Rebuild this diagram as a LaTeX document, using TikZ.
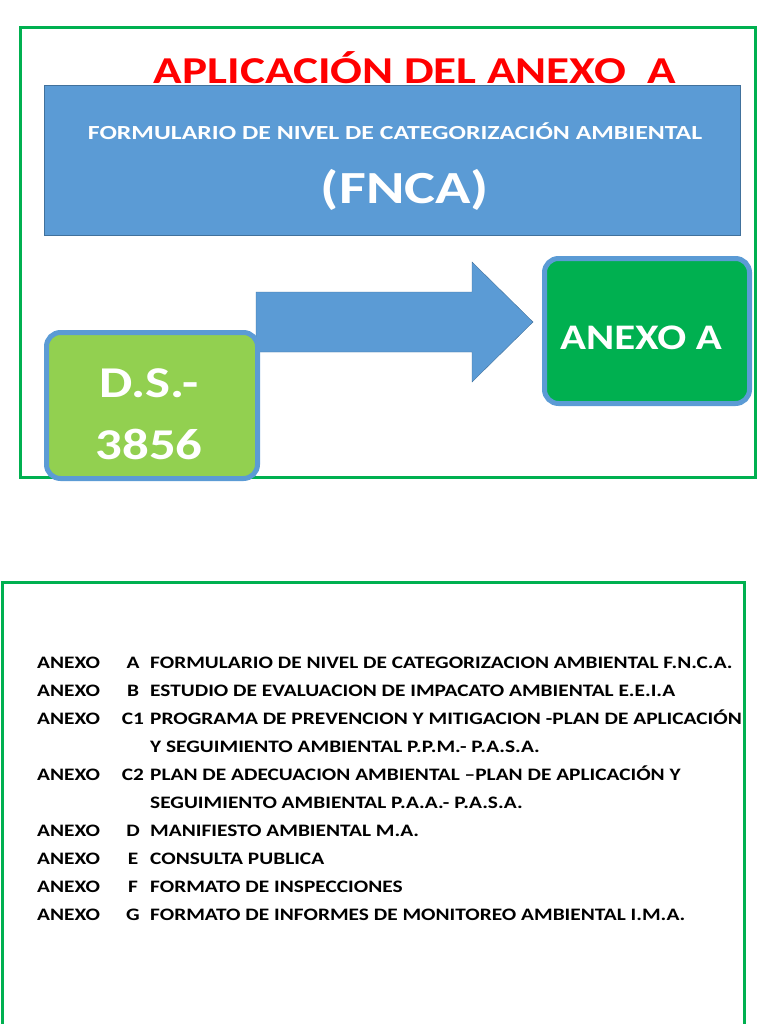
\documentclass[tikz,border=0pt]{standalone}
\usepackage{fontspec}
\setmainfont{Carlito}
\definecolor{gfr}{RGB}{0,176,80}
\definecolor{bfill}{RGB}{91,155,213}
\definecolor{bdark}{RGB}{65,113,156}
\definecolor{lgreen}{RGB}{146,208,80}
\newcommand{\wide}[2][1.22]{\scalebox{#1}[1]{#2}}
\begin{document}
\begin{tikzpicture}[x=1pt,y=-1pt,
  frame/.style={draw=gfr,line width=3pt},
  rbox/.style={draw=bfill,line width=5pt,rounded corners=14pt},
  wtxt/.style={text=white,font=\bfseries},
  item/.style={anchor=base west,font=\bfseries\fontsize{17.5}{21}\selectfont,inner sep=0pt}]
\useasboundingbox (0,0) rectangle (768,1024);
\draw[frame] (20,28) rectangle (755,477);
\node (title) at (415,68) {\textcolor{red}{\bfseries\fontsize{38}{44}\selectfont\wide[1.24]{APLICACIÓN DEL ANEXO\ \ A}}};
\node[draw=bdark,fill=bfill,minimum width=696pt,minimum height=150pt,anchor=north west,inner sep=0pt] (fnca) at (44,85) {};
\node[wtxt,font=\bfseries\fontsize{20}{24}\selectfont] (ft) at (395,131) {\wide[1.29]{FORMULARIO DE NIVEL DE CATEGORIZACIÓN AMBIENTAL}};
\node[wtxt,font=\bfseries\fontsize{46}{52}\selectfont] (fb) at (405,190) {\wide[1.27]{(FNCA)}};
\draw[draw=bdark,fill=bfill] (256,292) -- (472,292) -- (472,262) -- (533,322) -- (472,382) -- (472,352) -- (256,352) -- cycle;
\node[rbox,fill=gfr,minimum width=205pt,minimum height=145pt,anchor=north west] (ax) at (542,256) {};
\node[wtxt,font=\bfseries\fontsize{36}{42}\selectfont] at (641,338) {\wide[1.19]{ANEXO A}};
\node[rbox,fill=lgreen,minimum width=211pt,minimum height=146pt,anchor=north west] (ds) at (44,330) {};
\node[wtxt,font=\bfseries\fontsize{44}{62}\selectfont,align=center] at (149,414) {\wide[1.2]{D.S.-}\\\wide[1.2]{3856}};
\draw[frame] (2,1030) -- (2,582) -- (744,582) -- (744,1030);
\foreach \y/\l/\t in {668/A/FORMULARIO DE NIVEL DE CATEGORIZACION AMBIENTAL F.N.C.A.,
  696/B/ESTUDIO DE EVALUACION DE IMPACATO AMBIENTAL E.E.I.A,
  724/C1/PROGRAMA DE PREVENCION Y MITIGACION -PLAN DE APLICACIÓN,
  780/C2/PLAN DE ADECUACION AMBIENTAL –PLAN DE APLICACIÓN Y,
  836/D/MANIFIESTO AMBIENTAL M.A.,
  864/E/CONSULTA PUBLICA,
  892/F/FORMATO DE INSPECCIONES,
  920/G/FORMATO DE INFORMES DE MONITOREO AMBIENTAL I.M.A.}{
  \node[item] at (37,\y) {\wide{ANEXO}};
  \node[item,anchor=base] at (133,\y) {\wide{\l}};
  \node[item] at (150,\y) {\wide{\t}};
}
\node[item] at (150,752) {\wide{Y SEGUIMIENTO AMBIENTAL P.P.M.- P.A.S.A.}};
\node[item] at (150,808) {\wide{SEGUIMIENTO AMBIENTAL P.A.A.- P.A.S.A.}};
\end{tikzpicture}
\end{document}
